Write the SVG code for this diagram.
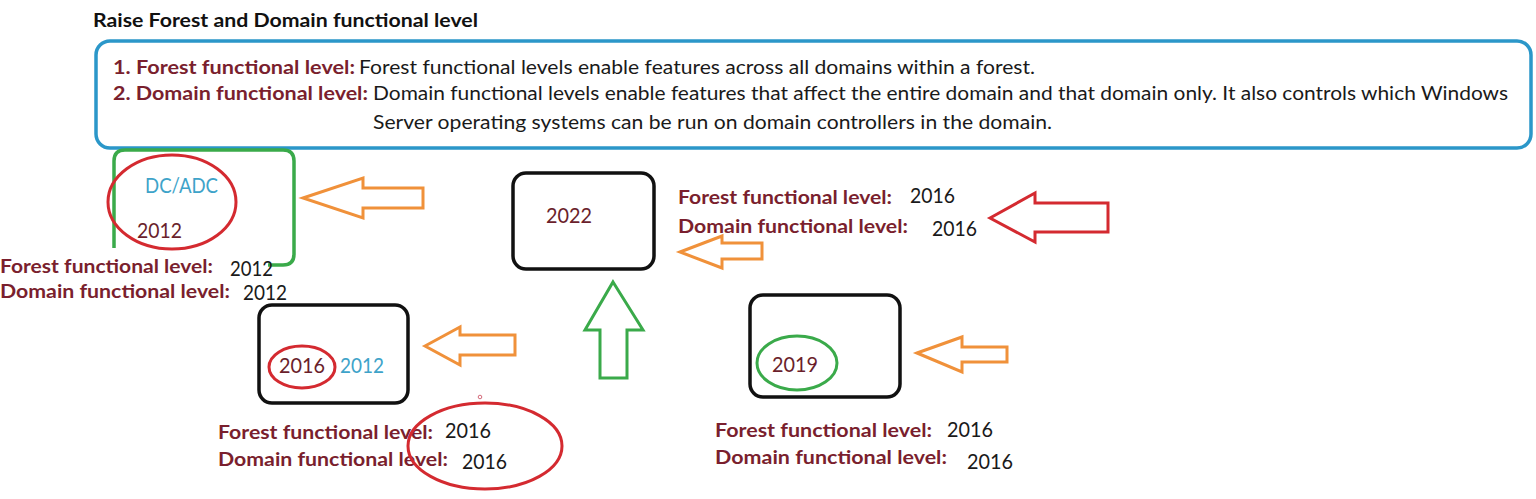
<svg xmlns="http://www.w3.org/2000/svg" width="1536" height="499" viewBox="0 0 1536 499">
<style>
text{font-family:Lato,"Open Sans","Liberation Sans",sans-serif;}
.lbl{font-weight:bold;fill:#7a1f2e;font-size:19.5px;}
.t{fill:#1a1a1a;font-size:19.5px;}
.yr{fill:#1a1a1a;font-size:21px;}
.yrm{fill:#6b1f2c;font-size:21px;}
.yrb{fill:#3ea3c9;font-size:21px;}
.box{fill:none;stroke:#111;stroke-width:3.5;}
.arr{fill:none;stroke-width:3;stroke-linejoin:miter;}
.orange{stroke:#f0913a;}
.red{stroke:#d42a30;}
.green{stroke:#3aaa4a;}
.ell{fill:none;stroke-width:3;}
</style>
<rect width="1536" height="499" fill="#fff"/>
<g id="header">
<text x="93" y="27" font-weight="bold" font-size="18.5" fill="#111" textLength="385" lengthAdjust="spacingAndGlyphs">Raise Forest and Domain functional level</text>
</g>
<g id="info-box">
<rect x="96" y="41" width="1435" height="107" rx="14" fill="none" stroke="#2b97c9" stroke-width="3.5"/>
<text class="lbl" x="113" y="74" textLength="242" lengthAdjust="spacingAndGlyphs">1. Forest functional level:</text>
<text class="t" x="359" y="74" textLength="676" lengthAdjust="spacingAndGlyphs">Forest functional levels enable features across all domains within a forest.</text>
<text class="lbl" x="113" y="100" textLength="255" lengthAdjust="spacingAndGlyphs">2. Domain functional level:</text>
<text class="t" x="373" y="100" textLength="1135" lengthAdjust="spacingAndGlyphs">Domain functional levels enable features that affect the entire domain and that domain only. It also controls which Windows</text>
<text class="t" x="373" y="129" textLength="679" lengthAdjust="spacingAndGlyphs">Server operating systems can be run on domain controllers in the domain.</text>
</g>
<g id="node-dc">
<path d="M114,248 V161 Q114,150 125,150 H283 Q294,150 294,161 V254 Q294,265 283,265 H268" fill="none" stroke="#3aaa4a" stroke-width="3.5"/>
<ellipse class="ell red" cx="172" cy="202" rx="64" ry="47"/>
<text class="yrb" x="145" y="193" textLength="73" lengthAdjust="spacingAndGlyphs">DC/ADC</text>
<text class="yrm" x="137" y="238" textLength="45" lengthAdjust="spacingAndGlyphs">2012</text>
<text class="lbl" x="0" y="273" textLength="213" lengthAdjust="spacingAndGlyphs">Forest functional level:</text>
<text class="yr" x="230" y="276" textLength="43" lengthAdjust="spacingAndGlyphs">2012</text>
<text class="lbl" x="0" y="298" textLength="230" lengthAdjust="spacingAndGlyphs">Domain functional level:</text>
<text class="yr" x="243" y="300" textLength="44" lengthAdjust="spacingAndGlyphs">2012</text>
</g>
<g id="node-2022">
<rect class="box" x="513" y="173" width="141" height="96" rx="13"/>
<text class="yrm" x="546" y="223" textLength="46" lengthAdjust="spacingAndGlyphs">2022</text>
<text class="lbl" x="678" y="204" textLength="214" lengthAdjust="spacingAndGlyphs">Forest functional level:</text>
<text class="yr" x="910" y="203" textLength="45" lengthAdjust="spacingAndGlyphs">2016</text>
<text class="lbl" x="678" y="233" textLength="230" lengthAdjust="spacingAndGlyphs">Domain functional level:</text>
<text class="yr" x="932" y="236" textLength="45" lengthAdjust="spacingAndGlyphs">2016</text>
</g>
<g id="node-2016">
<rect class="box" x="259" y="305" width="149" height="98" rx="13"/>
<ellipse class="ell red" cx="302" cy="367" rx="33" ry="21"/>
<text class="yrm" x="279" y="373" textLength="46" lengthAdjust="spacingAndGlyphs">2016</text>
<text class="yrb" x="340" y="373" textLength="44" lengthAdjust="spacingAndGlyphs">2012</text>
<text class="lbl" x="218" y="439" textLength="215" lengthAdjust="spacingAndGlyphs">Forest functional level:</text>
<text class="yr" x="445" y="438" textLength="46" lengthAdjust="spacingAndGlyphs">2016</text>
<text class="lbl" x="218" y="466" textLength="230" lengthAdjust="spacingAndGlyphs">Domain functional level:</text>
<text class="yr" x="462" y="469" textLength="45" lengthAdjust="spacingAndGlyphs">2016</text>
</g>
<g id="node-2019">
<rect class="box" x="750" y="295" width="150" height="102" rx="13"/>
<ellipse class="ell green" cx="797" cy="363" rx="40" ry="27"/>
<text class="yrm" x="772" y="372" textLength="46" lengthAdjust="spacingAndGlyphs">2019</text>
<text class="lbl" x="715" y="437" textLength="217" lengthAdjust="spacingAndGlyphs">Forest functional level:</text>
<text class="yr" x="947" y="437" textLength="46" lengthAdjust="spacingAndGlyphs">2016</text>
<text class="lbl" x="715" y="464" textLength="232" lengthAdjust="spacingAndGlyphs">Domain functional level:</text>
<text class="yr" x="967" y="469" textLength="46" lengthAdjust="spacingAndGlyphs">2016</text>
</g>
<g id="annotation">
<ellipse class="ell red" cx="485" cy="446" rx="77" ry="43"/>
<circle cx="480" cy="397" r="1.8" fill="none" stroke="#d46a7a" stroke-width="1"/>
</g>
<g id="connectors">
<polygon class="arr orange" points="303,198 363,178 363,188 423,188 423,208 363,208 363,218"/>
<polygon class="arr orange" points="680,252 722,236 722,243 762,243 762,259 722,259 722,268"/>
<polygon class="arr red" points="990,218 1035,193 1035,203 1108,203 1108,232 1035,232 1035,242"/>
<polygon class="arr orange" points="425,346 460,327 460,335 515,335 515,355 460,355 460,365"/>
<polygon class="arr orange" points="917,353 962,337 962,347 1007,347 1007,362 962,362 962,372"/>
<polygon class="arr green" points="613,282 643,330 627,330 627,378 600,378 600,330 585,330"/>
</g>
</svg>
